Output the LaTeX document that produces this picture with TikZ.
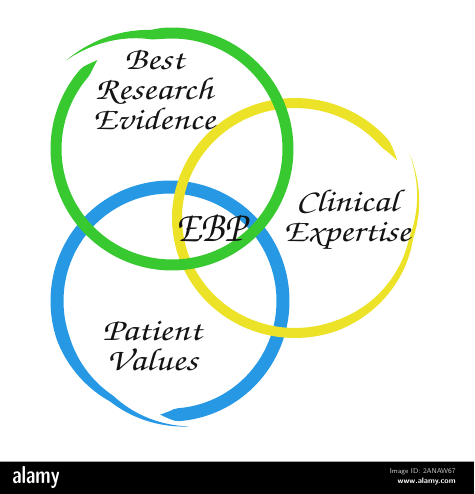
\documentclass[tikz,border=0pt]{standalone}
\usepackage[T1,TU]{fontenc}
\usepackage{tikz}
\usetikzlibrary{positioning}
\usepackage{xcolor}
\definecolor{ringgreen}{RGB}{56,200,48}
\definecolor{ringyellow}{RGB}{236,226,40}
\definecolor{ringblue}{RGB}{38,152,228}
\definecolor{ink}{RGB}{20,20,20}
\newcommand{\handfont}{\fontencoding{T1}\fontfamily{pzc}\fontseries{mb}\fontshape{it}\selectfont}
% width and outward drift of a brush stroke along its angle
\pgfmathdeclarefunction{brushw}{1}{%
  \pgfmathparse{\bw*min(1,abs(#1-\angA)/\tapA,abs(#1-\angB)/\tapB)}}
\pgfmathdeclarefunction{brushg}{1}{%
  \pgfmathparse{\grA*max(0,1-abs(#1-\angA)/40)+\grB*max(0,1-abs(#1-\angB)/40)}}
\tikzset{
  lbl/.style={font=\handfont\fontsize{18}{17}\selectfont,text=ink,align=center,
    inner sep=0pt,xscale=1.2},
  big/.style={font=\handfont\fontsize{25}{25}\selectfont,text=ink,inner sep=0pt,xscale=0.9},
  bar/.style={text=white,inner sep=0pt,font=\sffamily\bfseries},
}
\begin{document}
\begin{tikzpicture}[x=0.02cm,y=-0.02cm]
  \useasboundingbox (0,0) rectangle (474,494);
  % three brush rings: blue below, green on top
  \foreach \col/\cx/\cy/\rx/\ry/\angA/\angB/\bw/\tapA/\tapB/\grA/\grB in {
      ringblue/170/301/113/114/95/-279/13/8/80/0/13,
      ringyellow/295/218/118/115/-30/330/10/100/10/14/0,
      ringgreen/172/149/116/116/230/-140/11/8/45/0/22} {
    \fill[\col] plot[domain=\angA:\angB,samples=160]
        ({\cx+(\rx+brushg(\x)+0.5*brushw(\x))*cos(\x)},{\cy+(\ry+brushg(\x)+0.5*brushw(\x))*sin(\x)})
      -- plot[domain=\angB:\angA,samples=160]
        ({\cx+(\rx+brushg(\x)-0.5*brushw(\x))*cos(\x)},{\cy+(\ry+brushg(\x)-0.5*brushw(\x))*sin(\x)})
      -- cycle;
  }
  \node[lbl] (evidence) at (154,89) {Best\\Research\\Evidence};
  \node[big] (ebp) at (211,227) {EBP};
  \node[lbl] (expertise) at (347,220) {Clinical\\Expertise};
  \node[lbl] (values) at (152,346) {Patient\\Values};
  % stock bar
  \fill[black] (0,462) rectangle (474,494);
  \draw[gray!70] (0,461.5) -- (474,461.5);
  \node[bar,font=\sffamily\bfseries\fontsize{14}{14}\selectfont,xscale=0.72] (brand) at (36,477) {alamy};
  \node[bar,font=\sffamily\fontsize{4}{4}\selectfont,text=white!80!black,anchor=east] (imgid) at (456,472) {Image ID: 2ANAW67};
  \node[bar,font=\sffamily\bfseries\fontsize{4.5}{4.5}\selectfont,anchor=east] (site) at (456,482) {www.alamy.com};
\end{tikzpicture}
\end{document}
